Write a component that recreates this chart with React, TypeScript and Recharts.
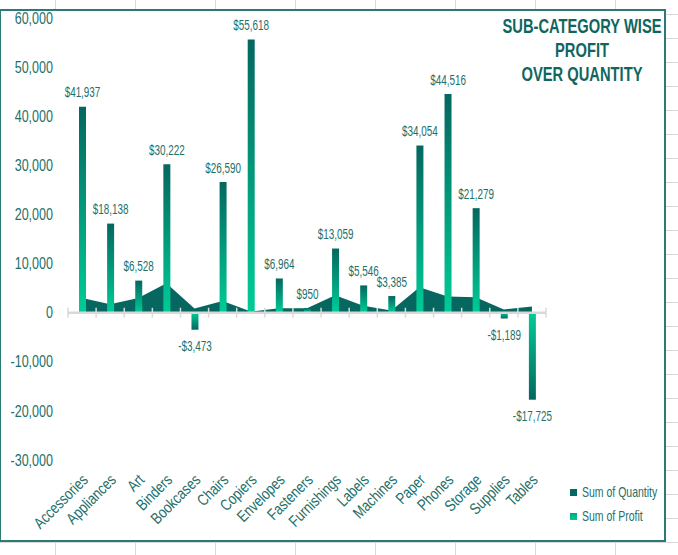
import {
  ComposedChart,
  Area,
  Bar,
  Cell,
  XAxis,
  YAxis,
  LabelList,
  ReferenceLine,
} from "recharts";

const categories = [
  "Accessories",
  "Appliances",
  "Art",
  "Binders",
  "Bookcases",
  "Chairs",
  "Copiers",
  "Envelopes",
  "Fasteners",
  "Furnishings",
  "Labels",
  "Machines",
  "Paper",
  "Phones",
  "Storage",
  "Supplies",
  "Tables",
];
const profit = [
  41937, 18138, 6528, 30222, -3473, 26590, 55618, 6964, 950, 13059, 5546, 3385,
  34054, 44516, 21279, -1189, -17725,
];
const quantity = [
  2976, 1729, 3000, 5974, 868, 2356, 234, 906, 914, 3563, 1400, 440, 5178, 3289,
  3158, 647, 1241,
];
const yTicks = [-30000, -20000, -10000, 0, 10000, 20000, 30000, 40000, 50000, 60000];

// no narrow font installed, so Liberation Sans is squeezed horizontally instead
const FONT = "'Liberation Sans', Arial, sans-serif";
const TEXT = "#236f6a";
const DARK = "#05675f";
const BRIGHT = "#00cc97";
const GREY = "#d9d9d9";

const data = categories.map((name, i) => ({
  name,
  profit: profit[i],
  quantity: quantity[i],
}));

const money = (v: number) =>
  (v < 0 ? "-$" : "$") + Math.abs(v).toLocaleString("en-US");

function CategoryTick({ x, y, payload }: any) {
  return (
    <g transform={`translate(${x + 3},${y + 17})`}>
      <text
        transform="rotate(-45) scale(0.8,1)"
        textAnchor="end"
        dominantBaseline="central"
        fill={TEXT}
        fontSize={16}
        fontFamily={FONT}
      >
        {payload.value}
      </text>
    </g>
  );
}

function ValueTick({ x, y, payload }: any) {
  return (
    <text
      transform={`translate(${x},${y}) scale(0.76,1)`}
      textAnchor="end"
      dominantBaseline="central"
      fill={TEXT}
      fontSize={16.5}
      fontFamily={FONT}
    >
      {payload.value.toLocaleString("en-US")}
    </text>
  );
}

function ProfitLabel(props: any) {
  const { x, y, width, height, value } = props;
  const top = Math.min(y, y + height);
  const bottom = Math.max(y, y + height);
  const cy = value < 0 ? bottom + 17 : top - 14;
  return (
    <text
      transform={`translate(${x + width / 2},${cy}) scale(0.66,1)`}
      textAnchor="middle"
      dominantBaseline="central"
      fill={TEXT}
      fontSize={15}
      fontFamily={FONT}
    >
      {money(value)}
    </text>
  );
}

const titleLine = {
  display: "block",
  whiteSpace: "nowrap" as const,
  transform: "scaleX(0.7)",
  transformOrigin: "center",
};

const legendText = {
  display: "inline-block",
  whiteSpace: "nowrap" as const,
  transform: "scaleX(0.7)",
  transformOrigin: "left center",
};

export default function App() {
  const last = categories[categories.length - 1];
  return (
    <div
      style={{
        position: "absolute",
        left: 0,
        top: 0,
        width: 678,
        height: 555,
        overflow: "hidden",
        backgroundColor: "#fff",
        backgroundImage: `linear-gradient(to right, ${GREY} 1px, transparent 1px), linear-gradient(to bottom, ${GREY} 1px, transparent 1px)`,
        backgroundSize: "80px 24px",
        backgroundPosition: "55px 14px",
        fontFamily: FONT,
      }}
    >
      <div
        style={{
          position: "absolute",
          left: -1,
          top: 9,
          width: 667,
          height: 533,
          boxSizing: "border-box",
          border: "2px solid #2b7a76",
          background: "#fff",
        }}
      />
      <div style={{ position: "absolute", left: 0, top: 0 }}>
        <ComposedChart
          width={678}
          height={555}
          data={data}
          margin={{ top: 18, right: 132, left: 8, bottom: 15 }}
        >
          <defs>
            <linearGradient id="posGrad" x1="0" y1="0" x2="0" y2="1">
              <stop offset="0%" stopColor={DARK} />
              <stop offset="100%" stopColor={BRIGHT} />
            </linearGradient>
            <linearGradient id="negGrad" x1="0" y1="0" x2="0" y2="1">
              <stop offset="0%" stopColor={BRIGHT} />
              <stop offset="100%" stopColor={DARK} />
            </linearGradient>
          </defs>
          <XAxis
            dataKey="name"
            interval={0}
            axisLine={false}
            tickLine={false}
            tickSize={0}
            tickMargin={0}
            height={80}
            tick={<CategoryTick />}
          />
          <YAxis
            domain={[-30000, 60000]}
            ticks={yTicks}
            width={60}
            axisLine={false}
            tickLine={false}
            tickSize={0}
            tickMargin={15}
            tick={<ValueTick />}
          />
          <Area
            type="linear"
            dataKey="quantity"
            name="Sum of Quantity"
            fill={DARK}
            fillOpacity={1}
            stroke="none"
            baseValue={0}
            isAnimationActive={false}
          />
          <ReferenceLine y={0} stroke={GREY} strokeWidth={2.5} />
          {categories.map((c) => (
            <ReferenceLine
              key={c}
              segment={[
                { x: c, y: -1000 },
                { x: c, y: 1000 },
              ]}
              position="start"
              stroke={GREY}
              strokeWidth={1.5}
            />
          ))}
          <ReferenceLine
            segment={[
              { x: last, y: -1000 },
              { x: last, y: 1000 },
            ]}
            position="end"
            stroke={GREY}
            strokeWidth={1.5}
          />
          <Bar
            dataKey="profit"
            name="Sum of Profit"
            barSize={7}
            isAnimationActive={false}
          >
            {data.map((d) => (
              <Cell
                key={d.name}
                fill={d.profit < 0 ? "url(#negGrad)" : "url(#posGrad)"}
              />
            ))}
            <LabelList dataKey="profit" content={<ProfitLabel />} />
          </Bar>
        </ComposedChart>
      </div>
      <div
        style={{
          position: "absolute",
          left: 432,
          top: 14,
          width: 300,
          textAlign: "center",
          color: "#0f6660",
          fontWeight: 700,
          fontSize: 21,
          lineHeight: "24px",
        }}
      >
        <span style={titleLine}>SUB-CATEGORY WISE</span>
        <span style={titleLine}>PROFIT</span>
        <span style={titleLine}>OVER QUANTITY</span>
      </div>
      <div
        style={{
          position: "absolute",
          left: 570,
          top: 480,
          color: TEXT,
          fontSize: 15,
          lineHeight: "24px",
        }}
      >
        <div style={{ display: "flex", alignItems: "center", gap: 5 }}>
          <span style={{ width: 7, height: 7, background: DARK, flex: "none" }} />
          <span style={legendText}>Sum of Quantity</span>
        </div>
        <div style={{ display: "flex", alignItems: "center", gap: 5 }}>
          <span
            style={{
              width: 7,
              height: 7,
              flex: "none",
              background: `linear-gradient(#00a684, ${BRIGHT})`,
            }}
          />
          <span style={legendText}>Sum of Profit</span>
        </div>
      </div>
    </div>
  );
}
